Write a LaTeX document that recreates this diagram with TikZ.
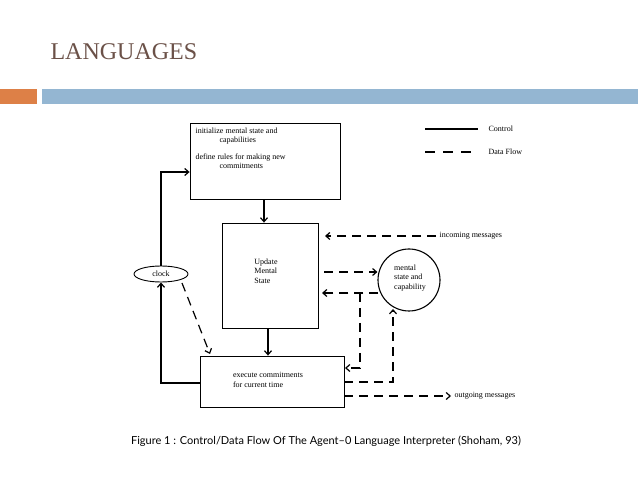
\documentclass[tikz,border=0pt]{standalone}
\usepackage{fontspec}
\setmainfont{Liberation Serif}
\newfontfamily\capfont{Lato}
\usetikzlibrary{arrows.meta,shapes.geometric}
\definecolor{titlec}{HTML}{6B5148}
\definecolor{orbar}{HTML}{DD8047}
\definecolor{blbar}{HTML}{94B6D2}
\begin{document}
\begin{tikzpicture}[x=1pt,y=-1pt,
  box/.style={draw,line width=0.8pt,inner sep=0pt},
  ctl/.style={line width=1.2pt,-{Straight Barb[length=4pt,width=7pt]}},
  df/.style={line width=1.2pt,dash pattern=on 9pt off 6pt,-{Straight Barb[length=4pt,width=7pt]}},
  lbl/.style={font=\fontsize{8}{9.5}\selectfont,align=left}]
\useasboundingbox (0,0) rectangle (638,478);
\fill[white] (0,0) rectangle (638,478);
\node[anchor=west,text=titlec,font=\fontsize{24}{26}\selectfont] (title) at (47,52) {LANGUAGES};
\fill[orbar] (0,89) rectangle (37,104);
\fill[blbar] (42,89) rectangle (638,104);
\node[box,minimum width=150pt,minimum height=76pt] (b1) at (265,161) {};
\node[lbl,anchor=north west] (t1) at (192,124) {initialize mental state and\\\hspace{24pt}capabilities\\[7pt]define rules for making new\\\hspace{24pt}commitments};
\node[box,minimum width=96pt,minimum height=105pt] (b2) at (270,275.5) {};
\node[lbl] (t2) at (266,271) {Update\\Mental\\State};
\node[box,minimum width=144pt,minimum height=51pt] (b3) at (272,381.5) {};
\node[lbl] (t3) at (268,380) {execute commitments\\for current time};
\node[draw,line width=0.9pt,ellipse,minimum width=54pt,minimum height=16pt,inner sep=0pt,font=\fontsize{8}{9}\selectfont] (clk) at (161,274) {clock};
\node[draw,line width=1.1pt,circle,minimum size=62pt] (ms) at (409,280) {};
\node[lbl] (t4) at (410,278) {mental\\state and\\capability};
\coordinate (c1) at (425,129); \coordinate (c2) at (478,129);
\draw[line width=1.2pt] (c1) -- (c2);
\node[lbl,anchor=west] (lc) at (485,129) {Control};
\coordinate (d1) at (425,152); \coordinate (d2) at (478,152);
\draw[line width=1.2pt,dash pattern=on 10pt off 8pt] (d1) -- (d2);
\node[lbl,anchor=west] (ld) at (485,152) {Data Flow};
\draw[ctl] (clk.north) |- (b1.west |- 0,172);
\draw[ctl] (b3.west |- 0,383) -| (clk.south);
\draw[ctl] (b1.south -| 264,0) -- (b2.north -| 264,0);
\draw[ctl] (b2.south -| 268,0) -- (b3.north -| 268,0);
\node[lbl,anchor=west] (in) at (436,236) {incoming messages};
\draw[df] (in.west) -- (325,236);
\draw[df] (182,283) -- (210,354);
\draw[df] (324,272) -- (ms.west |- 0,272);
\draw[df] (ms.west |- 0,293) ++(1,0) -- (322,293);
\draw[df] (360,293) -- (360,368) -- (345,368);
\draw[df] (b3.east |- 0,382) -- (393,382) -- (393,309);
\node[lbl,anchor=west] (out) at (451,396) {outgoing messages};
\draw[df] (b3.east |- 0,396) -- (out.west);
\node[font=\capfont\fontsize{11}{13}\selectfont] (cap) at (326,441) {Figure 1 : Control/Data Flow Of The Agent–0 Language Interpreter (Shoham, 93)};
\end{tikzpicture}
\end{document}
